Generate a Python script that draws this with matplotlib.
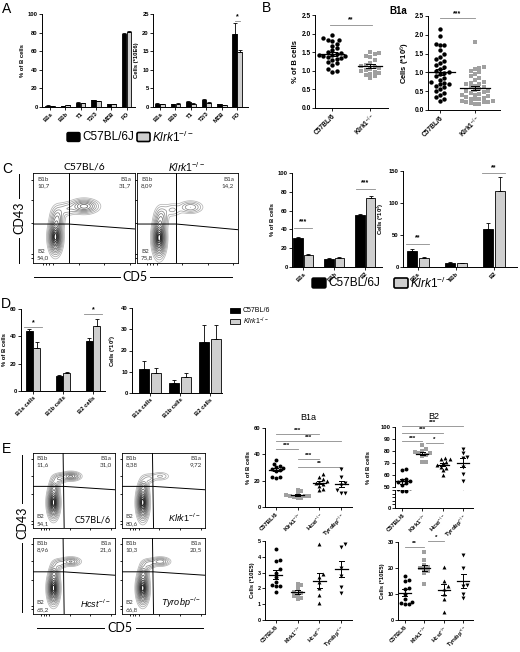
import numpy as np
import matplotlib
matplotlib.use('Agg')
import matplotlib.pyplot as plt
from matplotlib.patches import FancyBboxPatch

plt.rcParams['font.family'] = ['Liberation Sans', 'DejaVu Sans']
plt.rcParams['mathtext.fontset'] = 'custom'
plt.rcParams['mathtext.rm'] = 'Liberation Sans'
plt.rcParams['mathtext.it'] = 'Liberation Sans:italic'
plt.rcParams['mathtext.bf'] = 'Liberation Sans:bold'
plt.rcParams['axes.linewidth'] = 0.7

# ---------------- data ----------------
# A: spleen B cell subsets
a_cats = ['B1a', 'B1b', 'T1', 'T2/3', 'MZB', 'FO']
a_pct_wt = [1.5, 1.2, 4.5, 7.0, 3.0, 79.0]
a_pct_wt_err = [0.3, 0.3, 0.6, 0.8, 0.3, 1.0]
a_pct_ko = [1.3, 1.8, 3.8, 6.0, 3.0, 80.5]
a_pct_ko_err = [0.2, 0.3, 0.4, 0.5, 0.3, 0.8]
a_cells_wt = [0.9, 0.8, 1.3, 1.8, 0.8, 19.7]
a_cells_wt_err = [0.1, 0.1, 0.2, 0.3, 0.1, 3.0]
a_cells_ko = [0.7, 0.9, 0.9, 1.2, 0.5, 14.8]
a_cells_ko_err = [0.1, 0.1, 0.1, 0.2, 0.1, 0.6]

# B: peritoneal B1a, individual mice
b_pct_wt = [1.97, 1.88, 1.83, 1.82, 1.80, 1.72, 1.68, 1.60, 1.55, 1.50, 1.48, 1.45, 1.43,
            1.42, 1.40, 1.40, 1.38, 1.35, 1.32, 1.30, 1.25, 1.20, 1.15, 1.05, 1.00, 0.97]
b_pct_ko = [1.50, 1.48, 1.45, 1.40, 1.38, 1.30, 1.22, 1.15, 1.12, 1.10, 1.08, 1.05, 1.02,
            1.00, 0.98, 0.95, 0.92, 0.90, 0.85, 0.80]
b_cells_wt = [2.15, 1.97, 1.75, 1.73, 1.72, 1.60, 1.50, 1.40, 1.35, 1.30, 1.25, 1.20, 1.15,
              1.10, 1.05, 1.00, 0.98, 0.95, 0.90, 0.85, 0.80, 0.75, 0.72, 0.70, 0.68, 0.65,
              0.60, 0.55, 0.50, 0.45, 0.40, 0.35, 0.30, 0.25]
b_cells_ko = [1.80, 1.15, 1.12, 1.10, 1.05, 1.00, 0.95, 0.90, 0.85, 0.80, 0.75, 0.72, 0.70,
              0.68, 0.65, 0.62, 0.60, 0.55, 0.52, 0.50, 0.50, 0.48, 0.45, 0.42, 0.40, 0.40,
              0.38, 0.35, 0.33, 0.30, 0.30, 0.28, 0.25, 0.22, 0.20, 0.20, 0.18, 0.15, 0.15, 0.25]

# C: peritoneal B cell subsets
c_cats = ['B1a', 'B1b', 'B2']
c_pct_wt = [30.5, 9.0, 55.0]
c_pct_wt_err = [1.2, 0.6, 1.2]
c_pct_ko = [12.5, 10.0, 73.5]
c_pct_ko_err = [1.0, 0.8, 2.5]
c_cells_wt = [25.0, 7.0, 59.0]
c_cells_wt_err = [3.0, 1.0, 9.0]
c_cells_ko = [14.0, 6.0, 119.0]
c_cells_ko_err = [1.5, 0.8, 21.0]
c_quad_wt = ['10,7', '31,7', '54,0']
c_quad_ko = ['8,09', '14,2', '75,8']

# D
d_cats = ['B1a cells', 'B1b cells', 'B2 cells']
d_pct_wt = [44.0, 11.0, 36.5]
d_pct_wt_err = [1.5, 0.5, 2.5]
d_pct_ko = [31.5, 13.5, 47.5]
d_pct_ko_err = [4.0, 0.7, 5.0]
d_cells_wt = [11.5, 4.8, 24.0]
d_cells_wt_err = [3.5, 1.3, 8.0]
d_cells_ko = [9.3, 7.5, 25.3]
d_cells_ko_err = [2.4, 1.8, 6.7]

# E
e_quads = [['11,6', '31,0', '54,1'], ['8,38', '9,72', '80,6'],
           ['8,96', '21,6', '65,2'], ['10,3', '20,5', '66,8']]
e_b1a_pct = [[36, 33, 31, 30.5, 30, 29, 28, 27.5, 23, 22.5, 22],
             [13, 12, 10, 9, 8.5, 8, 8, 7.5, 7, 6.5],
             [25, 23, 21, 19.5, 19, 18, 17.5, 16, 14, 13],
             [29, 23, 18, 17, 13, 11, 11]]
e_b2_pct = [[65, 64, 57, 56, 55, 54, 53, 52, 46, 46],
            [85, 82, 80, 79, 78.5, 78, 77, 76, 71, 71],
            [74, 73, 73, 71, 70, 68, 67, 66, 64, 60],
            [82, 78, 75, 74, 67, 61, 55]]
e_b1a_cells = [[4.5, 3.8, 3.75, 3.2, 3.0, 2.7, 2.4, 2.2, 2.15, 2.15, 1.8],
               [2.3, 2.2, 2.0, 1.8, 1.7, 1.6, 1.5, 1.4, 1.35],
               [4.8, 2.9, 2.7, 2.4, 2.0, 1.6, 1.1],
               [4.8, 4.6, 3.3, 2.8, 2.1, 1.7]]
e_b2_cells = [[17, 15.5, 15, 12.5, 12, 10, 8, 7, 6.5, 6, 6],
              [26, 23, 21, 20.5, 20, 19.5, 19, 18, 14],
              [20.5, 15, 13, 12, 10, 8, 3],
              [25, 20, 13.5, 13, 10, 8.5]]

# flow contour blobs (cx, cy, sx, sy, weight) in gate-plot units
flow_c_wt = [(0.22, 0.29, 0.032, 0.09, 1.0), (0.24, 0.50, 0.035, 0.07, 0.25),
             (0.33, 0.60, 0.05, 0.04, 0.12), (0.50, 0.63, 0.07, 0.04, 0.4)]
flow_c_ko = [(0.22, 0.28, 0.032, 0.10, 1.0), (0.24, 0.50, 0.035, 0.07, 0.22),
             (0.35, 0.59, 0.05, 0.04, 0.1), (0.53, 0.62, 0.06, 0.035, 0.2)]
flow_e = [
    [(0.25, 0.34, 0.035, 0.10, 1.0), (0.26, 0.54, 0.03, 0.06, 0.25),
     (0.32, 0.66, 0.045, 0.035, 0.2), (0.46, 0.69, 0.06, 0.03, 0.38)],
    [(0.25, 0.34, 0.035, 0.11, 1.0), (0.26, 0.54, 0.03, 0.06, 0.2),
     (0.32, 0.66, 0.045, 0.035, 0.1), (0.46, 0.69, 0.06, 0.03, 0.1)],
    [(0.25, 0.34, 0.035, 0.10, 1.0), (0.26, 0.54, 0.03, 0.06, 0.25),
     (0.32, 0.66, 0.045, 0.035, 0.16), (0.46, 0.69, 0.06, 0.03, 0.28)],
    [(0.25, 0.34, 0.035, 0.10, 1.0), (0.26, 0.54, 0.03, 0.06, 0.25),
     (0.32, 0.66, 0.045, 0.035, 0.16), (0.46, 0.69, 0.06, 0.03, 0.26)],
]
contour_fracs = np.array([0.025, 0.05, 0.09, 0.14, 0.2, 0.27, 0.35, 0.45, 0.55, 0.65, 0.75, 0.85, 0.93])

KO_IT = r'$\mathit{Klrk1}^{-/-}$'
KO_TICK = r'Klrk1$^{-/-}$'
e_ticks = ['C57BL/6', KO_TICK, r'Hcst$^{-/-}$', r'Tyrobp$^{-/-}$']

GREY = '#cfcfcf'
W, H = 520, 652
fig = plt.figure(figsize=(W / 100, H / 100), dpi=100)


def px_axes(x0, y0, x1, y1):
    return fig.add_axes([x0 / W, 1 - y1 / H, (x1 - x0) / W, (y1 - y0) / H])


def style(ax, ylabel, ylim, yticks, fs=4.2, lfs=4.2):
    for s in ['top', 'right']:
        ax.spines[s].set_visible(False)
    ax.set_ylim(ylim)
    ax.set_yticks(yticks)
    ax.tick_params(labelsize=fs, length=2, width=0.6, pad=1)
    for lab in ax.get_xticklabels() + ax.get_yticklabels():
        lab.set_fontweight('bold')
    ax.set_ylabel(ylabel, fontsize=lfs, fontweight='bold', labelpad=2)


def bar_pair(ax, cats, wt, wt_err, ko, ko_err, xlim, width=0.3, off=0.16):
    x = np.arange(len(cats))
    ekw = dict(elinewidth=0.6, capsize=1.5, capthick=0.6)
    ax.bar(x - off, wt, width, color='black', edgecolor='black', linewidth=0.6,
           yerr=[np.zeros(len(wt)), wt_err], error_kw=ekw)
    ax.bar(x + off, ko, width, color=GREY, edgecolor='black', linewidth=0.6,
           yerr=[np.zeros(len(ko)), ko_err], error_kw=ekw)
    ax.set_xticks(x)
    ax.set_xticklabels(cats, rotation=45, ha='right', rotation_mode='anchor')
    ax.set_xlim(xlim)


def sig(ax, x0, x1, y, s, gap, fs=5):
    ax.plot([x0, x1], [y, y], color='#8a8a8a', lw=0.6, clip_on=False)
    ax.text((x0 + x1) / 2, y + gap, s, ha='center', va='bottom', fontsize=fs,
            fontweight='bold', clip_on=False)


def swarm_x(vals, y_px, x_px, d):
    vals = np.asarray(vals, float)
    order = np.argsort(vals)
    placed = []
    xs = np.zeros(len(vals))
    steps = [0] + [s * k for k in range(1, 40) for s in (1, -1)]
    for i in order:
        py = vals[i] * y_px
        for k in steps:
            px = k * d * 0.5
            if all((px - qx) ** 2 + (py - qy) ** 2 >= d * d for qx, qy in placed):
                break
        placed.append((px, py))
        xs[i] = px / x_px
    return xs


def dot_groups(ax, groups, markers, colors, box, xlim, ylim, s=6, d=3.4, hw=0.3, axes_list=None):
    y_px = (box[3] - box[1]) / (ylim[1] - ylim[0])
    x_px = (box[2] - box[0]) / (xlim[1] - xlim[0])
    targets = axes_list if axes_list else [ax]
    for i, vals in enumerate(groups):
        xs = i + swarm_x(vals, y_px, x_px, d)
        for a in targets:
            a.scatter(xs, vals, s=s, marker=markers[i], color=colors[i], linewidths=0, zorder=3)
        v = np.asarray(vals, float)
        m = v.mean()
        se = v.std(ddof=1) / np.sqrt(len(v))
        ax.plot([i - hw, i + hw], [m, m], color='black', lw=0.9, zorder=4)
        ax.plot([i, i], [m - se, m + se], color='black', lw=0.7, zorder=4)
        for yy in (m - se, m + se):
            ax.plot([i - 0.12, i + 0.12], [yy, yy], color='black', lw=0.7, zorder=4)
    ax.set_xticks(range(len(groups)))
    ax.set_xlim(xlim)


def flow_plot(box, blobs, vg, hg, quad, geno=None):
    ax = px_axes(*box)
    gx, gy = np.meshgrid(np.linspace(0, 1, 240), np.linspace(0, 1, 240))
    z = np.zeros_like(gx)
    for cx, cy, sx, sy, w in blobs:
        z += w * np.exp(-0.5 * (((gx - cx) / sx) ** 2 + ((gy - cy) / sy) ** 2))
    lv = z.max() * contour_fracs
    cols = plt.cm.Greys(np.linspace(0.4, 1.0, len(lv)))
    ax.contour(gx, gy, z, levels=lv, colors=cols, linewidths=0.55)
    ax.plot([vg[0], vg[1]], [1, 0], color='black', lw=0.7)
    ax.plot([0, vg[0] * 0.5 + vg[1] * 0.5, 1], [hg[0], hg[0], hg[1]], color='black', lw=0.7)
    ax.set_xlim(0, 1)
    ax.set_ylim(0, 1)
    ax.set_xticks([0.1, 0.13, 0.16, 0.2, 0.45, 0.7, 0.95])
    ax.set_yticks([0.06, 0.1, 0.45, 0.7, 0.92])
    ax.tick_params(length=1.5, width=0.6, labelbottom=False, labelleft=False)
    for sp in ax.spines.values():
        sp.set_linewidth(0.6)
    tk = dict(fontsize=4.5, color='#333333', family=['Lato', 'DejaVu Sans'], linespacing=1.4)
    ax.text(0.04, 0.96, 'B1b\n' + quad[0], ha='left', va='top', **tk)
    ax.text(0.96, 0.96, 'B1a\n' + quad[1], ha='right', va='top', multialignment='right', **tk)
    ax.text(0.04, 0.03, 'B2\n' + quad[2], ha='left', va='bottom', **tk)
    if geno:
        ax.text(0.95, 0.05, geno, ha='right', va='bottom', fontsize=6.5,
                family=['Lato', 'DejaVu Sans'])
    return ax


# ---------------- panel A ----------------
ax = px_axes(42, 14, 135, 107)
bar_pair(ax, a_cats, a_pct_wt, a_pct_wt_err, a_pct_ko, a_pct_ko_err, (-0.52, 5.55))
style(ax, '% of B cells', (0, 100), range(0, 101, 20))

ax = px_axes(153, 14, 248, 107)
bar_pair(ax, a_cats, a_cells_wt, a_cells_wt_err, a_cells_ko, a_cells_ko_err, (-0.45, 5.7))
style(ax, 'Cells (*10E6)', (0, 25), range(0, 26, 5))
sig(ax, 4.84, 5.16, 23.0, '*', 0.2)

# ---------------- panel B ----------------
bx = (315, 15, 388, 108)
ax = px_axes(*bx)
dot_groups(ax, [b_pct_wt, b_pct_ko], ['o', 's'], ['black', '#a0a0a0'], bx,
           (-0.45, 1.47), (0, 2.5), s=10, d=4.4, hw=0.32)
ax.set_xticklabels(['C57BL/6', KO_TICK], rotation=45, ha='right', rotation_mode='anchor')
style(ax, '% of B cells', (0, 2.5), np.arange(0, 2.51, 0.5), fs=4.8, lfs=5.5)
ax.set_yticklabels(['0.0', '0.5', '1.0', '1.5', '2.0', '2.5'], fontweight='bold')
sig(ax, -0.05, 1.05, 2.23, '**', 0.05)

bx = (428, 16, 500, 110)
ax = px_axes(*bx)
dot_groups(ax, [b_cells_wt, b_cells_ko], ['o', 's'], ['black', '#a0a0a0'], bx,
           (-0.34, 1.71), (0, 2.5), s=10, d=4.4, hw=0.42)
ax.set_xticklabels(['C57BL/6', KO_TICK], rotation=45, ha='right', rotation_mode='anchor')
style(ax, r'Cells (*10$^6$)', (0, 2.5), np.arange(0, 2.51, 0.5), fs=4.8, lfs=5.5)
ax.set_yticklabels(['0.0', '0.5', '1.0', '1.5', '2.0', '2.5'], fontweight='bold')
sig(ax, 0.0, 1.0, 2.44, '***', 0.03)

# ---------------- panel C ----------------
flow_plot((33, 173, 135, 263), flow_c_wt, (0.35, 0.35), (0.433, 0.378), c_quad_wt)
flow_plot((137, 173, 238, 263), flow_c_ko, (0.39, 0.39), (0.433, 0.37), c_quad_ko)

ax = px_axes(292, 173, 382, 267)
bar_pair(ax, c_cats, c_pct_wt, c_pct_wt_err, c_pct_ko, c_pct_ko_err, (-0.36, 2.54), width=0.3, off=0.17)
style(ax, '% of B cells', (0, 100), range(0, 101, 20))
sig(ax, -0.3, 0.3, 42, '***', 2.5)
sig(ax, 1.7, 2.3, 83, '***', 2.5)

ax = px_axes(403, 171, 517, 267)
bar_pair(ax, c_cats, c_cells_wt, c_cells_wt_err, c_cells_ko, c_cells_ko_err, (-0.39, 2.61), width=0.27, off=0.16)
style(ax, r'Cells (*10$^4$)', (0, 150), range(0, 151, 50))
sig(ax, -0.3, 0.3, 36.5, '**', 3)
sig(ax, 1.7, 2.3, 147, '**', 3)

# ---------------- panel D ----------------
ax = px_axes(21, 309, 105, 391)
bar_pair(ax, d_cats, d_pct_wt, d_pct_wt_err, d_pct_ko, d_pct_ko_err, (-0.4, 2.4), width=0.23, off=0.12)
style(ax, '% of B cells', (0, 60), range(0, 61, 20))
sig(ax, -0.3, 0.3, 46.5, '*', 1.2)
sig(ax, 1.7, 2.3, 56, '*', 1.2)

ax = px_axes(132, 308, 222, 393)
bar_pair(ax, d_cats, d_cells_wt, d_cells_wt_err, d_cells_ko, d_cells_ko_err, (-0.6, 2.4), width=0.33, off=0.19)
style(ax, r'Cells (*10$^6$)', (0, 40), range(0, 41, 10))

# ---------------- panel E ----------------
genos = ['C57BL/6', KO_IT, r'$\mathit{Hcst}^{-/-}$', r'$\mathit{Tyrobp}^{-/-}$']
e_boxes = [(33, 453, 115, 528), (122, 453, 205, 528), (33, 538, 115, 614), (122, 538, 205, 614)]
for bxx, bl, q, g in zip(e_boxes, flow_e, e_quads, genos):
    flow_plot(bxx, bl, (0.367, 0.38), (0.555, 0.51), q, g)

e_markers = ['o', 's', '^', 'v']
e_colors = ['black', '#a0a0a0', 'black', 'black']

bx = (265, 428, 352, 507)
ax = px_axes(*bx)
dot_groups(ax, e_b1a_pct, e_markers, e_colors, bx, (-0.5, 3.5), (0, 60), s=8, d=3.8, hw=0.3)
ax.set_xticklabels(e_ticks, rotation=45, ha='right', rotation_mode='anchor')
style(ax, '% of B cells', (0, 60), range(0, 61, 20))
ax.set_title('B1a', fontsize=6.5, pad=6)
sig(ax, 0, 2, 55.4, '***', 0.8, fs=4.5)
sig(ax, 0, 3, 49.9, '***', 0.8, fs=4.5)
sig(ax, 0, 1, 44.3, '***', 0.8, fs=4.5)
sig(ax, 1, 2, 36.5, '***', 0.8, fs=4.5)
sig(ax, 1, 3, 30.1, '**', 0.8, fs=4.5)

# broken axis B2
bx_up = (395, 427, 473, 487)
ax_up = px_axes(*bx_up)
ax_lo = px_axes(395, 490, 473, 508)
dot_groups(ax_up, e_b2_pct, e_markers, e_colors, bx_up, (-0.35, 3.5), (50, 100), s=8, d=3.8, hw=0.3,
           axes_list=[ax_up, ax_lo])
ax_lo.set_xticks(range(4))
ax_lo.set_xlim(-0.35, 3.5)
ax_lo.set_xticklabels(e_ticks, rotation=45, ha='right', rotation_mode='anchor')
style(ax_up, '', (50, 100), range(50, 101, 10))
style(ax_lo, '', (0, 50), [0, 10, 20, 30, 40, 50])
ax_lo.set_yticklabels(['0', '', '', '', '', ''], fontweight='bold')
ax_up.spines['bottom'].set_visible(False)
ax_up.tick_params(bottom=False, labelbottom=False)
ax_up.set_title('B2', fontsize=6.5, pad=6)
sig(ax_up, 0, 3, 101, '***', 0.8, fs=4.5)
sig(ax_up, 0, 2, 95, '***', 0.8, fs=4.5)
sig(ax_up, 0, 1, 88, '***', 0.8, fs=4.5)
sig(ax_up, 1.2, 2, 86.7, '*', 0.8, fs=4.5)

bx = (265, 541, 352, 620)
ax = px_axes(*bx)
dot_groups(ax, e_b1a_cells, e_markers, e_colors, bx, (-0.5, 3.5), (0, 5), s=8, d=3.8, hw=0.3)
ax.set_xticklabels(e_ticks, rotation=45, ha='right', rotation_mode='anchor')
style(ax, 'Cells (*10E5)', (0, 5), range(0, 6), fs=4.0)

bx = (398, 542, 473, 620)
ax = px_axes(*bx)
dot_groups(ax, e_b2_cells, e_markers, e_colors, bx, (-0.35, 3.5), (0, 30), s=8, d=3.8, hw=0.3)
ax.set_xticklabels(e_ticks, rotation=45, ha='right', rotation_mode='anchor')
style(ax, 'Cells (*10E5)', (0, 30), range(0, 31, 10), fs=4.0)
sig(ax, 0, 1, 28.2, '**', 0.4, fs=4.5)
sig(ax, 1.2, 2, 30.4, '*', 0.4, fs=4.5)

# ---------------- overlay: letters, legends, axis names ----------------
ov = fig.add_axes([0, 0, 1, 1])
ov.set_xlim(0, W)
ov.set_ylim(H, 0)
ov.axis('off')
ov.patch.set_alpha(0)

for lx, ly, L in [(2, 2, 'A'), (262, 1, 'B'), (2, 162, 'C'), (1, 297, 'D'), (2, 442, 'E')]:
    ov.text(lx, ly, L, fontsize=10, va='top', ha='left')

ov.text(398, 11, 'B1a', fontsize=7, fontweight='bold', ha='center', va='center')


def legend_pair(x, y, bw, bh, t1, t2, fs, x2):
    ov.add_patch(FancyBboxPatch((x, y - bh / 2), bw, bh, boxstyle='round,pad=0,rounding_size=1.5',
                                facecolor='black', edgecolor='black', lw=1))
    ov.text(x + bw + 2, y, t1, fontsize=fs, va='center', ha='left')
    ov.add_patch(FancyBboxPatch((x2, y - bh / 2), bw, bh, boxstyle='round,pad=0,rounding_size=1.5',
                                facecolor=GREY, edgecolor='black', lw=1.2))
    ov.text(x2 + bw + 2, y, t2, fontsize=fs, va='center', ha='left')


legend_pair(67, 137, 13, 9, 'C57BL/6J', KO_IT, 8.5, 137)
legend_pair(312, 283, 14, 10, 'C57BL/6J', KO_IT, 8.5, 394)

ov.add_patch(plt.Rectangle((230, 307.5), 10, 5, facecolor='black', edgecolor='black', lw=0.6))
ov.text(243, 310, 'C57BL/6', fontsize=5, va='center')
ov.add_patch(plt.Rectangle((230, 318.5), 10, 5, facecolor=GREY, edgecolor='black', lw=0.6))
ov.text(243, 321, KO_IT, fontsize=5, va='center')

flow_font = ['Lato', 'DejaVu Sans']
ov.text(84, 167, 'C57BL/6', fontsize=7.5, ha='center', va='center', family=flow_font)
ov.text(187, 167, KO_IT, fontsize=7.5, ha='center', va='center')

# C axis names
ov.text(19, 218, 'CD43', fontsize=9, rotation=90, ha='center', va='center', family=flow_font)
ov.plot([19, 19], [174, 198], color='black', lw=0.7)
ov.plot([19, 19], [238, 263], color='black', lw=0.7)
ov.text(135, 277, 'CD5', fontsize=9, ha='center', va='center', family=flow_font)
ov.plot([34, 120], [277, 277], color='black', lw=0.7)
ov.plot([150, 232], [277, 277], color='black', lw=0.7)

# E axis names
ov.text(22, 523, 'CD43', fontsize=9, rotation=90, ha='center', va='center', family=flow_font)
ov.plot([22, 22], [455, 503], color='black', lw=0.7)
ov.plot([22, 22], [543, 612], color='black', lw=0.7)
ov.text(120, 628, 'CD5', fontsize=9, ha='center', va='center', family=flow_font)
ov.plot([37, 104], [628, 628], color='black', lw=0.7)
ov.plot([136, 203], [628, 628], color='black', lw=0.7)

ov.text(368, 468, '% of B cells', fontsize=4.2, fontweight='bold', rotation=90, ha='center', va='center')

fig.savefig('out.png', dpi=100)
